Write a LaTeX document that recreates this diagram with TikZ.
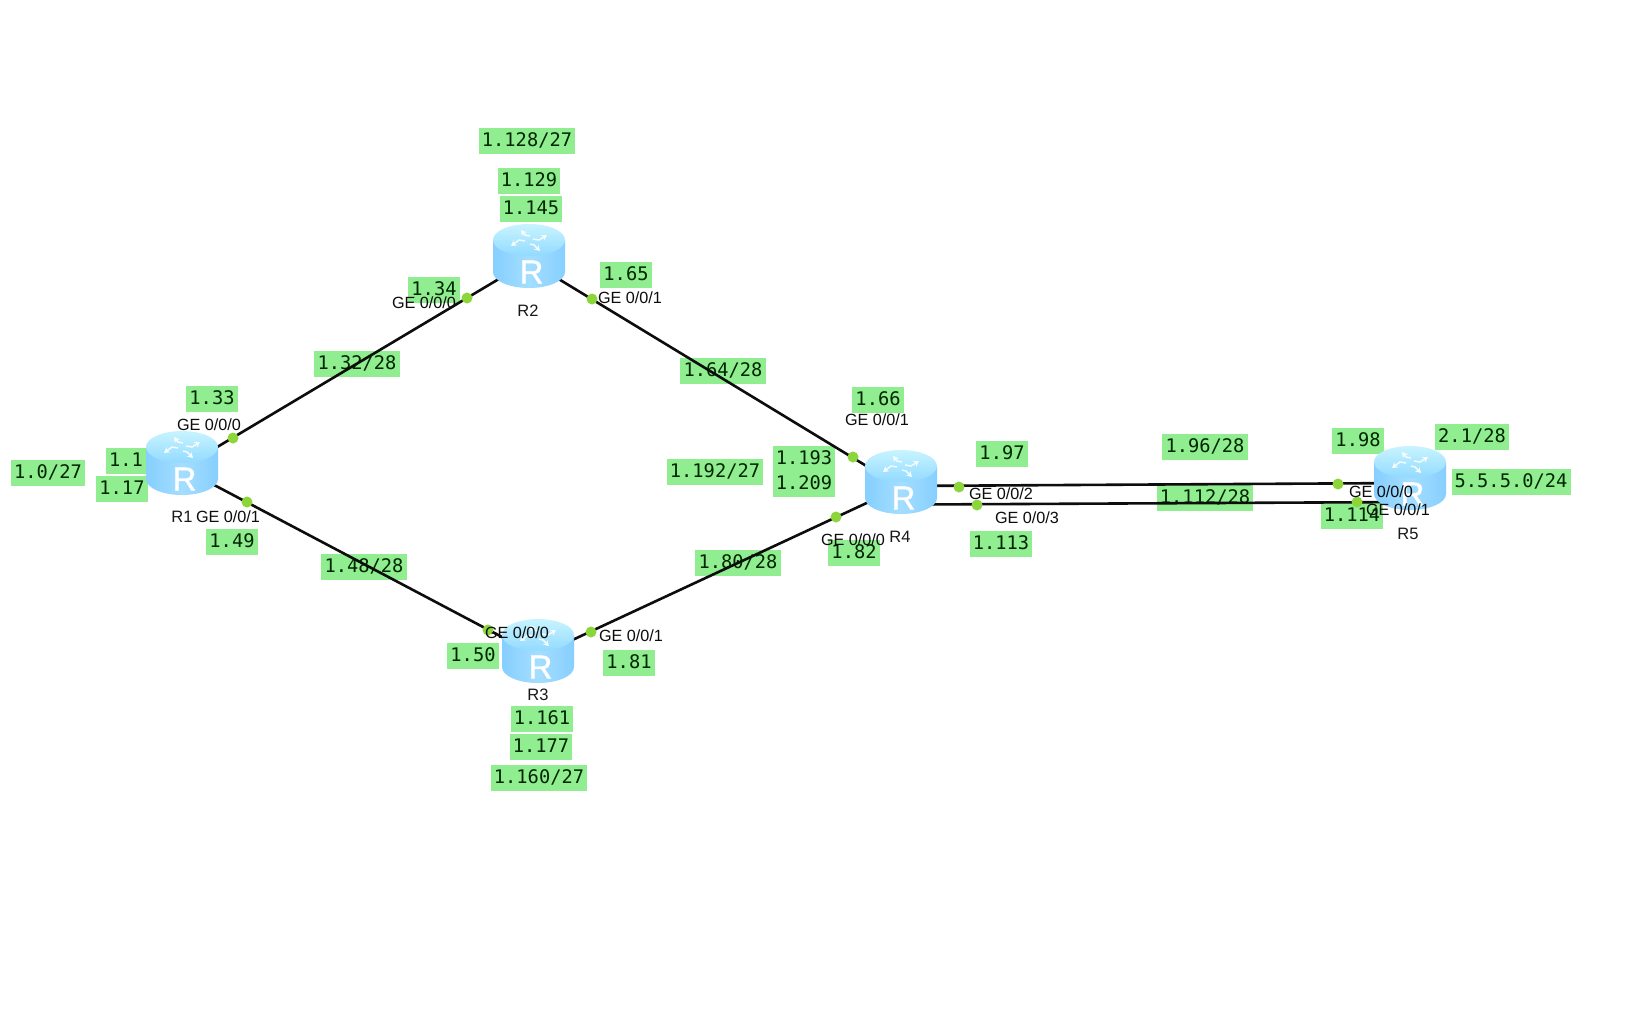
\documentclass[tikz,border=0pt]{standalone}
\usepackage{fontspec}
\setmainfont{Liberation Sans}
\newfontfamily\labelmono{DejaVu Sans Mono}
\newfontfamily\routerletter[FakeBold=1.2]{Liberation Sans}
\usetikzlibrary{arrows.meta}
\pgfdeclarelayer{greenlayer}
\pgfdeclarelayer{linklayer}
\pgfsetlayers{greenlayer,linklayer,main}
\definecolor{lblgreen}{HTML}{90EE90}
\definecolor{dotgreen}{HTML}{8CD63C}
\definecolor{bodyside}{HTML}{86CFFF}
\definecolor{bodymid}{HTML}{A4DEFF}
\definecolor{topa}{HTML}{C8F4FF}
\definecolor{topb}{HTML}{92DAFF}
\tikzset{
  x=1pt,y=-1pt,
  addr/.style={fill=lblgreen,draw=none,inner xsep=3.2pt,inner ysep=0pt,minimum height=26pt,text height=13pt,text depth=3pt,text=black!85!green,font=\labelmono\fontsize{18.7}{20}\selectfont},
  port/.style={inner sep=0pt,text=black!95,font=\fontsize{16.2}{18}\selectfont},
  rname/.style={inner sep=0pt,text=black!90,font=\fontsize{16.5}{18}\selectfont},
  link/.style={draw=black!95,line width=2.6pt},
  pdot/.style={circle,fill=dotgreen,draw=none,inner sep=0pt,minimum size=11pt},
  routerbox/.style={rectangle,draw=none,fill=none,inner sep=0pt,minimum width=72pt,minimum height=64pt},
  rarrow/.style={draw=white,opacity=.85,line width=1.5pt,-{Stealth[length=5.5pt,width=6.5pt]}},
}
\newcommand\routerat[3]{%
  \node[routerbox] (#1) at (#2,#3) {};
  \begin{scope}[shift={(#2,#3)}]
    \shade[left color=bodyside,right color=bodyside,middle color=bodymid]
      (-36,-21) -- (-36,11) arc[start angle=180,end angle=0,x radius=36,y radius=16] -- (36,-21) -- cycle;
    \shade[top color=topa,bottom color=topb] (0,-21) ellipse[x radius=36,y radius=16];
    \draw[rarrow] (1,-25) -- (-4,-26) -- (-8,-31);
    \draw[rarrow] (-4,-20) -- (-10,-21) -- (-18,-15);
    \draw[rarrow] (4,-22) -- (10,-21) -- (18,-26);
    \draw[rarrow] (1,-17) -- (5,-16) -- (11,-10);
    \node[inner sep=0pt,text=white,font=\routerletter\fontsize{33}{33}\selectfont] at (2.5,11) {R};
  \end{scope}
}
\begin{document}
\begin{tikzpicture}
\useasboundingbox (0,0) rectangle (1636,1010);
\begin{pgfonlayer}{greenlayer}
\fill[white] (0,0) rectangle (1636,1010);
\node[addr] (a01) at (527,141) {1.128/27};
\node[addr] (a02) at (529,181) {1.129};
\node[addr] (a03) at (531,209) {1.145};
\node[addr] (a04) at (434,290) {1.34};
\node[addr] (a05) at (626,275) {1.65};
\node[addr] (a06) at (357,364) {1.32/28};
\node[addr] (a07) at (723,371) {1.64/28};
\node[addr] (a08) at (212,399) {1.33};
\node[addr] (a09) at (126,461) {1.1};
\node[addr] (a10) at (122,489) {1.17};
\node[addr] (a11) at (48,473) {1.0/27};
\node[addr] (a12) at (232,542) {1.49};
\node[addr] (a13) at (364,567) {1.48/28};
\node[addr] (a14) at (878,400) {1.66};
\node[addr] (a15) at (804,459) {1.193};
\node[addr] (a16) at (804,484) {1.209};
\node[addr] (a17) at (715,472) {1.192/27};
\node[addr] (a18) at (1002,454) {1.97};
\node[addr] (a19) at (1001,544) {1.113};
\node[addr] (a20) at (854,553) {1.82};
\node[addr] (a21) at (738,563) {1.80/28};
\node[addr] (a22) at (1205,447) {1.96/28};
\node[addr] (a23) at (1205,498) {1.112/28};
\node[addr] (a24) at (1358,441) {1.98};
\node[addr] (a25) at (1472,437) {2.1/28};
\node[addr] (a26) at (1511,482) {5.5.5.0/24};
\node[addr] (a27) at (1352,516) {1.114};
\node[addr] (a28) at (473,656) {1.50};
\node[addr] (a29) at (629,663) {1.81};
\node[addr] (a30) at (542,719) {1.161};
\node[addr] (a31) at (541,747) {1.177};
\node[addr] (a32) at (539,778) {1.160/27};
\end{pgfonlayer}
\routerat{R1}{182}{468}
\routerat{R2}{529}{261}
\routerat{R3}{538}{656}
\routerat{R4}{901}{487}
\routerat{R5}{1410}{483}
\begin{pgfonlayer}{linklayer}
\draw[link] (R1.center) -- (R2.center);
\draw[link] (R1.center) -- (R3.center);
\draw[link] (R2.center) -- (R4.center);
\draw[link] (R3.center) -- (R4.center);
\draw[link] ([yshift=1pt]R4.center) -- (R5.center);
\draw[link] ([yshift=-17.6pt]R4.center) -- ([yshift=-19pt]R5.center);
\end{pgfonlayer}
\node[pdot] (d01) at (233,438) {};
\node[pdot] (d02) at (247,502) {};
\node[pdot] (d03) at (467,298) {};
\node[pdot] (d04) at (592,299) {};
\node[pdot] (d05) at (853,457) {};
\node[pdot] (d06) at (836,517) {};
\node[pdot] (d07) at (488,630) {};
\node[pdot] (d08) at (591,632) {};
\node[pdot] (d09) at (959,487) {};
\node[pdot] (d10) at (977,505) {};
\node[pdot] (d11) at (1338,484) {};
\node[pdot] (d12) at (1357,502) {};
\node[port] (p01) at (424,303) {GE 0/0/0};
\node[port] (p02) at (630,298) {GE 0/0/1};
\node[port] (p03) at (209,425) {GE 0/0/0};
\node[port] (p04) at (228,517) {GE 0/0/1};
\node[port] (p05) at (877,420) {GE 0/0/1};
\node[port] (p06) at (853,540) {GE 0/0/0};
\node[port] (p07) at (1001,494) {GE 0/0/2};
\node[port] (p08) at (1027,518) {GE 0/0/3};
\node[port] (p09) at (1381,492) {GE 0/0/0};
\node[port] (p10) at (1398,510) {GE 0/0/1};
\node[port] (p11) at (517,633) {GE 0/0/0};
\node[port] (p12) at (631,636) {GE 0/0/1};
\node[rname] (n1) at (182,517) {R1};
\node[rname] (n2) at (528,311) {R2};
\node[rname] (n3) at (538,695) {R3};
\node[rname] (n4) at (900,537) {R4};
\node[rname] (n5) at (1408,534) {R5};
\end{tikzpicture}
\end{document}
